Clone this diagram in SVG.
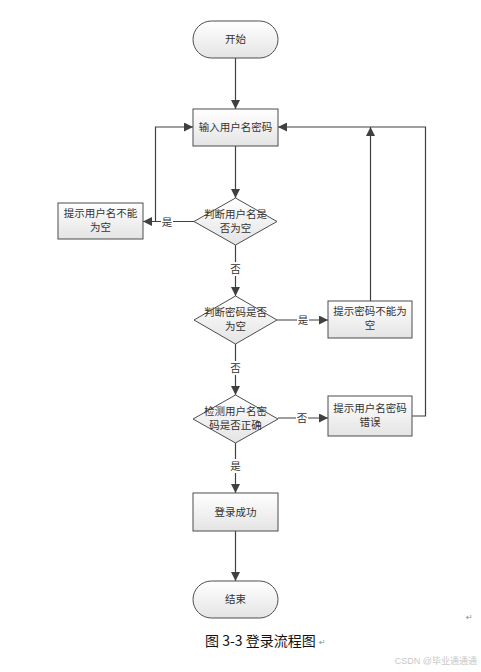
<svg xmlns="http://www.w3.org/2000/svg" width="481" height="672" viewBox="0 0 481 672">
<defs>
<linearGradient id="g" x1="0" y1="0" x2="0" y2="1">
<stop offset="0" stop-color="#ffffff"/>
<stop offset="1" stop-color="#e4e4e4"/>
</linearGradient>
<marker id="a" viewBox="0 0 10 10" refX="10" refY="5" markerWidth="9" markerHeight="9" markerUnits="userSpaceOnUse" orient="auto">
<path d="M0,0 L10,5 L0,10 z" fill="#404040"/>
</marker>
<style>
.n{fill:url(#g);stroke:#4d4d4d;stroke-width:1}
.t{font-family:"Liberation Serif","Noto Sans CJK SC",serif;font-size:10.5px;fill:#333;text-anchor:middle}
.c{fill:none;stroke:#404040;stroke-width:1.2;marker-end:url(#a)}
.l{fill:none;stroke:#404040;stroke-width:1.2}
.lb{font-family:"Liberation Serif","Noto Sans CJK SC",serif;font-size:10.5px;fill:#333;text-anchor:middle}
</style>
</defs>
<rect width="481" height="672" fill="#fff"/>
<g id="connectors">
<path class="c" d="M235.5,58 V109"/>
<path class="c" d="M235.5,146 V198"/>
<path class="c" d="M194,221.5 H143"/>
<path class="c" d="M143,221.5 H155.5 V127 H193"/>
<path class="c" d="M235.5,245 V296"/>
<path class="c" d="M277,320 H328"/>
<path class="c" d="M370.5,301 V127"/>
<path class="c" d="M235.5,344 V395"/>
<path class="c" d="M278,418 H328"/>
<path class="c" d="M412,416 H425.5 V127 H278"/>
<path class="c" d="M235.5,443 V493"/>
<path class="c" d="M235.5,531 V581"/>
<rect x="161" y="214" width="12" height="14" fill="#fff"/>
<text class="lb" x="167" y="225.5">是</text>
<rect x="229.5" y="262" width="12" height="14" fill="#fff"/>
<text class="lb" x="235.5" y="273">否</text>
<rect x="297" y="313" width="12" height="14" fill="#fff"/>
<text class="lb" x="303" y="324">是</text>
<rect x="229.5" y="361" width="12" height="14" fill="#fff"/>
<text class="lb" x="235.5" y="372">否</text>
<rect x="296" y="411" width="12" height="14" fill="#fff"/>
<text class="lb" x="302" y="422">否</text>
<rect x="229.5" y="459" width="12" height="14" fill="#fff"/>
<text class="lb" x="235.5" y="470">是</text>
</g>
<g id="start">
<rect class="n" x="193" y="21" width="85" height="37" rx="18.5"/>
<text class="t" x="235.5" y="43">开始</text>
</g>
<g id="input">
<rect class="n" x="193" y="109" width="85" height="37"/>
<text class="t" x="235.5" y="131">输入用户名密码</text>
</g>
<g id="check-user">
<polygon class="n" points="235.5,198 277,221.5 235.5,245 194,221.5"/>
<text class="t" x="235.5" y="218">判断用户名是</text>
<text class="t" x="235.5" y="232">否为空</text>
</g>
<g id="user-empty">
<rect class="n" x="58" y="203" width="85" height="36"/>
<text class="t" x="100.5" y="217">提示用户名不能</text>
<text class="t" x="100.5" y="231">为空</text>
</g>
<g id="check-pass">
<polygon class="n" points="235.5,296 277,320 235.5,344 194,320"/>
<text class="t" x="235.5" y="316">判断密码是否</text>
<text class="t" x="235.5" y="330">为空</text>
</g>
<g id="pass-empty">
<rect class="n" x="328" y="301" width="84" height="37"/>
<text class="t" x="370" y="315">提示密码不能为</text>
<text class="t" x="370" y="329">空</text>
</g>
<g id="check-both">
<polygon class="n" points="235.5,395 278,419 235.5,443 193,419"/>
<text class="t" x="235.5" y="415">检测用户名密</text>
<text class="t" x="235.5" y="429">码是否正确</text>
</g>
<g id="wrong">
<rect class="n" x="328" y="396" width="84" height="40"/>
<text class="t" x="370" y="412">提示用户名密码</text>
<text class="t" x="370" y="426">错误</text>
</g>
<g id="success">
<rect class="n" x="193" y="493" width="85" height="38"/>
<text class="t" x="235.5" y="516">登录成功</text>
</g>
<g id="end">
<rect class="n" x="193" y="581" width="85" height="37" rx="18.5"/>
<text class="t" x="235.5" y="603">结束</text>
</g>
<text x="205" y="646" font-family="&quot;Noto Sans CJK SC&quot;,sans-serif" font-size="14" fill="#111">图 3-3 登录流程图</text>
<text x="319" y="645" font-family="&quot;DejaVu Sans&quot;,sans-serif" font-size="8" fill="#888">↵</text>
<text x="466" y="620" font-family="&quot;DejaVu Sans&quot;,sans-serif" font-size="8" fill="#888">↵</text>
<text x="477" y="664" text-anchor="end" font-family="&quot;Liberation Sans&quot;,&quot;Noto Sans CJK SC&quot;,sans-serif" font-size="9" fill="#c8c8c8">CSDN @毕业通通通</text>
</svg>
